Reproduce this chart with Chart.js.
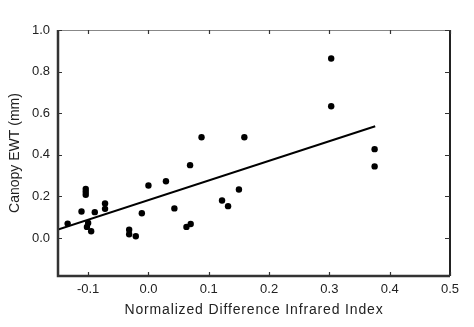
<!DOCTYPE html>
<html lang="en">
<head>
    <meta charset="UTF-8">
    <script src="https://cdn.jsdelivr.net/npm/chart.js"></script>
    <title>Canopy EWT vs NDII</title>
    <style>
        html, body { margin: 0; padding: 0; background: #fff; }
        .wrap { width: 474px; height: 327px; }
    </style>
</head>
<body>
<div class="wrap"><canvas id="grafico" width="474" height="327"></canvas></div>
<script>
    // NDII (x) e EWT do dossel (y)
    var ndii = [-0.134, -0.111, -0.104, -0.104, -0.104, -0.100, -0.102, -0.095, -0.089, -0.072, -0.072,
                -0.032, -0.032, -0.021, -0.011, 0.000, 0.029, 0.043, 0.063, 0.070, 0.069, 0.088,
                0.122, 0.132, 0.150, 0.159, 0.303, 0.303, 0.375, 0.375]
    var ewt = [0.069, 0.127, 0.236, 0.222, 0.208, 0.072, 0.053, 0.032, 0.124, 0.166, 0.140,
               0.040, 0.018, 0.008, 0.119, 0.252, 0.273, 0.142, 0.053, 0.067, 0.350, 0.484,
               0.180, 0.153, 0.233, 0.484, 0.863, 0.633, 0.427, 0.344]
    // reta de regressao (extremos)
    var retaX = [-0.15, 0.376]
    var retaY = [0.040, 0.537]
    var xTicks = [-0.1, 0.0, 0.1, 0.2, 0.3, 0.4, 0.5]
    var yTicks = [0.0, 0.2, 0.4, 0.6, 0.8, 1.0]
    var tituloX = 'Normalized Difference Infrared Index'
    var tituloY = 'Canopy EWT (mm)'

    var pontos = ndii.map(function (x, i) { return { x: x, y: ewt[i] } })
    var reta = retaX.map(function (x, i) { return { x: x, y: retaY[i] } })

    var familia = "'Liberation Sans', Arial, sans-serif"
    var fonte = { family: familia, size: 13 }

    // moldura, marcas para dentro e titulo do eixo x (com espacamento entre letras)
    var moldura = {
        id: 'moldura',
        afterDraw: function (chart) {
            var ctx = chart.ctx
            var a = chart.chartArea
            var sx = chart.scales.x
            var sy = chart.scales.y
            ctx.save()
            ctx.strokeStyle = '#888'
            ctx.lineWidth = 1
            ctx.beginPath()
            ctx.moveTo(a.left, a.top + 0.5)
            ctx.lineTo(a.right, a.top + 0.5)
            ctx.stroke()
            ctx.strokeStyle = '#222'
            ctx.lineWidth = 2
            ctx.beginPath()
            ctx.moveTo(a.right, a.top)
            ctx.lineTo(a.right, a.bottom)
            ctx.stroke()
            ctx.strokeStyle = '#333'
            ctx.lineWidth = 2.5
            ctx.beginPath()
            ctx.moveTo(a.left, a.top)
            ctx.lineTo(a.left, a.bottom)
            ctx.lineTo(a.right, a.bottom)
            ctx.stroke()
            ctx.lineWidth = 1.2
            ctx.strokeStyle = '#333'
            xTicks.forEach(function (v) {
                var px = Math.round(sx.getPixelForValue(v)) + 0.5
                ctx.beginPath()
                ctx.moveTo(px, a.bottom); ctx.lineTo(px, a.bottom - 4)
                ctx.moveTo(px, a.top); ctx.lineTo(px, a.top + 4)
                ctx.stroke()
            })
            yTicks.forEach(function (v) {
                var py = Math.round(sy.getPixelForValue(v)) + 0.5
                ctx.beginPath()
                ctx.moveTo(a.left, py); ctx.lineTo(a.left + 4, py)
                ctx.moveTo(a.right, py); ctx.lineTo(a.right - 5, py)
                ctx.stroke()
            })
            ctx.fillStyle = '#222'
            ctx.font = '14px ' + familia
            ctx.letterSpacing = '0.85px'
            ctx.textAlign = 'center'
            ctx.textBaseline = 'middle'
            ctx.fillText(tituloX, (a.left + a.right) / 2, 310.5)
            ctx.restore()
        }
    }

    var grafico = new Chart(document.getElementById('grafico'), {
        type: 'scatter',
        data: {
            datasets: [{
                label: 'EWT',
                data: pontos,
                pointRadius: 3.2,
                pointHoverRadius: 3.2,
                backgroundColor: '#000',
                borderColor: '#000',
                borderWidth: 0
            }, {
                type: 'line',
                label: 'regressao',
                data: reta,
                borderColor: '#000',
                borderWidth: 2,
                pointRadius: 0,
                fill: false
            }]
        },
        plugins: [moldura],
        options: {
            responsive: false,
            animation: false,
            events: [],
            layout: { padding: { top: 30, right: 24, left: 0, bottom: 0 } },
            plugins: { legend: { display: false }, tooltip: { enabled: false } },
            scales: {
                x: {
                    type: 'linear',
                    min: -0.15,
                    max: 0.5,
                    afterFit: function (s) { s.height = 51 },
                    afterBuildTicks: function (s) { s.ticks = xTicks.map(function (v) { return { value: v } }) },
                    grid: { display: false, drawTicks: false },
                    border: { display: false },
                    ticks: {
                        padding: 6,
                        maxRotation: 0,
                        color: '#222',
                        font: fonte,
                        callback: function (v) { return v.toFixed(1) }
                    },
                    title: { display: false }
                },
                y: {
                    type: 'linear',
                    min: -0.183,
                    max: 1.0,
                    afterFit: function (s) { s.width = 58 },
                    afterBuildTicks: function (s) { s.ticks = yTicks.map(function (v) { return { value: v } }) },
                    grid: { display: false, drawTicks: false },
                    border: { display: false },
                    ticks: {
                        padding: 8,
                        color: '#222',
                        font: fonte,
                        callback: function (v) { return v.toFixed(1) }
                    },
                    title: {
                        display: true,
                        text: tituloY,
                        color: '#222',
                        font: { family: familia, size: 14 },
                        padding: { top: 7, bottom: 0 }
                    }
                }
            }
        }
    })
</script>
</body>
</html>
